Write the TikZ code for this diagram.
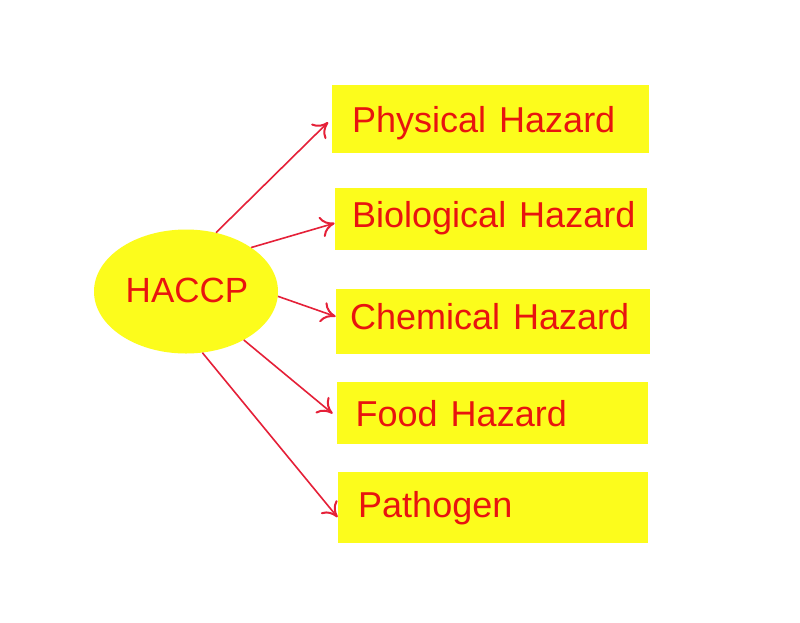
\documentclass[tikz,border=0pt]{standalone}
\usepackage{fontspec}
\setmainfont{Liberation Sans}
\usetikzlibrary{shapes.geometric,arrows.meta}
\definecolor{hyellow}{HTML}{FCFC1C}
\definecolor{htext}{HTML}{E8140F}
\definecolor{harrow}{HTML}{E52038}
\tikzset{
  boxnode/.style={rectangle, fill=hyellow, draw=none, inner sep=0pt},
  lbl/.style={anchor=base west, inner sep=0pt, text=htext, font=\fontsize{36}{40}\selectfont},
  conn/.style={draw=harrow, line width=1.6pt, -{To[length=14pt,width=21pt,line width=2pt]}},
}
\begin{document}
\begin{tikzpicture}[x=1pt,y=-1pt]
\useasboundingbox (0,0) rectangle (800,622);
\fill[white] (0,0) rectangle (800,622);
% central ellipse
\node[ellipse, fill=hyellow, minimum width=184pt, minimum height=124pt, inner sep=0pt] (h) at (186,291.5) {};
\node[anchor=base, inner sep=0pt, text=htext, font=\fontsize{35}{40}\selectfont] (ht) at (187,302) {HACCP};
% boxes
\node[boxnode, minimum width=317pt, minimum height=68pt] (b1) at (490.8,119.2) {};
\node[boxnode, minimum width=312pt, minimum height=62pt] (b2) at (490.8,219.2) {};
\node[boxnode, minimum width=314pt, minimum height=65pt] (b3) at (492.8,321.5) {};
\node[boxnode, minimum width=311pt, minimum height=62pt] (b4) at (492.2,412.5) {};
\node[boxnode, minimum width=310pt, minimum height=71pt] (b5) at (492.7,507.2) {};
% labels
\node[lbl] (t1) at (352,132) {Physical\hspace{3pt} Hazard};
\node[lbl] (t2) at (352,227) {Biological\hspace{3pt} Hazard};
\node[lbl] (t3) at (350,329) {Chemical\hspace{3pt} Hazard};
\node[lbl] (t4) at (355.5,426) {Food\hspace{3pt} Hazard};
\node[lbl] (t5) at (358,517) {Pathogen};
% connectors
\draw[conn] (h.63) -- ([shift={(-4,3)}]b1.west);
\draw[conn] (h.34) -- ([shift={(0,4)}]b2.west);
\draw[conn] (h.-3) -- ([shift={(0,-5)}]b3.west);
\draw[conn] (h.-40) -- ([shift={(-4,1)}]b4.west);
\draw[conn] (h.-75) -- ([shift={(0,10)}]b5.west);
\end{tikzpicture}
\end{document}
